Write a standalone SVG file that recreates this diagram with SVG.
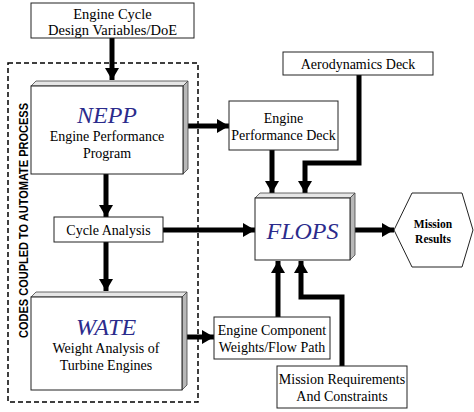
<svg xmlns="http://www.w3.org/2000/svg" width="474" height="412" viewBox="0 0 474 412">
<style>
.box{fill:#fff;stroke:#222;stroke-width:1}
.top{fill:#e6e6e6;stroke:#444;stroke-width:0.8}
.side{fill:#b8b8b8;stroke:#444;stroke-width:0.8}
.t{font-family:'Liberation Serif','Times New Roman',serif;font-size:14px;fill:#000;text-anchor:middle}
.big{font-family:'Liberation Serif','Times New Roman',serif;font-size:24px;font-style:italic;fill:#2b2b8c;text-anchor:middle}
.sm{font-family:'Liberation Serif','Times New Roman',serif;font-size:11.5px;font-weight:bold;text-anchor:middle}
.c{fill:none;stroke:#000;stroke-width:5}
</style>
<defs>
<marker id="ah" markerUnits="userSpaceOnUse" markerWidth="14" markerHeight="14" refX="12" refY="7" orient="auto">
<polygon points="0,0 12,7 0,14" fill="#000"/>
</marker>
</defs>
<rect width="474" height="412" fill="#fff"/>
<g id="boundary">
<rect x="8" y="63" width="190" height="339" fill="none" stroke="#000" stroke-width="1.5" stroke-dasharray="5,3"/>
<text x="0" y="0" transform="translate(27.5,220.5) rotate(-90)" font-family="'Liberation Sans',Arial,sans-serif" font-weight="bold" font-size="13" text-anchor="middle" textLength="235" lengthAdjust="spacingAndGlyphs">CODES COUPLED TO AUTOMATE PROCESS</text>
</g>
<g id="connectors">
<line class="c" x1="112" y1="38" x2="112" y2="80" marker-end="url(#ah)"/>
<line class="c" x1="187" y1="126" x2="229" y2="126" marker-end="url(#ah)"/>
<line class="c" x1="106" y1="174" x2="106" y2="217" marker-end="url(#ah)"/>
<line class="c" x1="106" y1="242" x2="106" y2="291" marker-end="url(#ah)"/>
<line class="c" x1="163" y1="230" x2="255" y2="230" marker-end="url(#ah)"/>
<line class="c" x1="186" y1="337" x2="214" y2="337" marker-end="url(#ah)"/>
<line class="c" x1="272" y1="150" x2="272" y2="193" marker-end="url(#ah)"/>
<path class="c" d="M359,75 V163 H305 V193" marker-end="url(#ah)"/>
<line class="c" x1="354" y1="230" x2="394" y2="230" marker-end="url(#ah)"/>
<line class="c" x1="278" y1="317" x2="278" y2="261" marker-end="url(#ah)"/>
<path class="c" d="M342,366 V297 H301 V261" marker-end="url(#ah)"/>
</g>
<g id="design-vars">
<rect class="box" x="31" y="3" width="163" height="35"/>
<text class="t" x="112.5" y="19" style="font-size:14.5px">Engine Cycle</text>
<text class="t" x="112.5" y="35" style="font-size:14.5px">Design Variables/DoE</text>
</g>
<g id="nepp">
<polygon class="top" points="31,86 36,81 188,81 183,86"/>
<polygon class="side" points="183,86 188,81 188,169 183,174"/>
<rect class="box" x="31" y="86" width="152" height="88"/>
<text class="big" x="107" y="123">NEPP</text>
<text class="t" x="107" y="141">Engine Performance</text>
<text class="t" x="107" y="158">Program</text>
</g>
<g id="cycle-analysis">
<rect class="box" x="54" y="217" width="109" height="25"/>
<text class="t" x="108.5" y="235">Cycle Analysis</text>
</g>
<g id="wate">
<polygon class="top" points="31,297 36,292 187,292 182,297"/>
<polygon class="side" points="182,297 187,292 187,385 182,390"/>
<rect class="box" x="31" y="297" width="151" height="93"/>
<text class="big" x="106" y="335">WATE</text>
<text class="t" x="106" y="353">Weight Analysis of</text>
<text class="t" x="106" y="370">Turbine Engines</text>
</g>
<g id="engine-perf-deck">
<rect class="box" x="229" y="101" width="109" height="49"/>
<text class="t" x="283.5" y="123">Engine</text>
<text class="t" x="283.5" y="140">Performance Deck</text>
</g>
<g id="aero-deck">
<rect class="box" x="283" y="52" width="150" height="23"/>
<text class="t" x="358" y="69">Aerodynamics Deck</text>
</g>
<g id="flops">
<polygon class="top" points="255,198 260,193 355,193 350,198"/>
<polygon class="side" points="350,198 355,193 355,255 350,260"/>
<rect class="box" x="255" y="198" width="95" height="62"/>
<text class="big" x="302.5" y="239">FLOPS</text>
</g>
<g id="mission-results">
<polygon class="box" points="394,230 412,193 462,193 473,230 462,267 412,267"/>
<text class="sm" x="433" y="228">Mission</text>
<text class="sm" x="433" y="243">Results</text>
</g>
<g id="engine-component">
<rect class="box" x="214" y="317" width="116" height="42"/>
<text class="t" x="272" y="335">Engine Component</text>
<text class="t" x="272" y="352">Weights/Flow Path</text>
</g>
<g id="mission-req">
<rect class="box" x="277" y="366" width="130" height="42"/>
<text class="t" x="342" y="384">Mission Requirements</text>
<text class="t" x="342" y="401">And Constraints</text>
</g>
</svg>
